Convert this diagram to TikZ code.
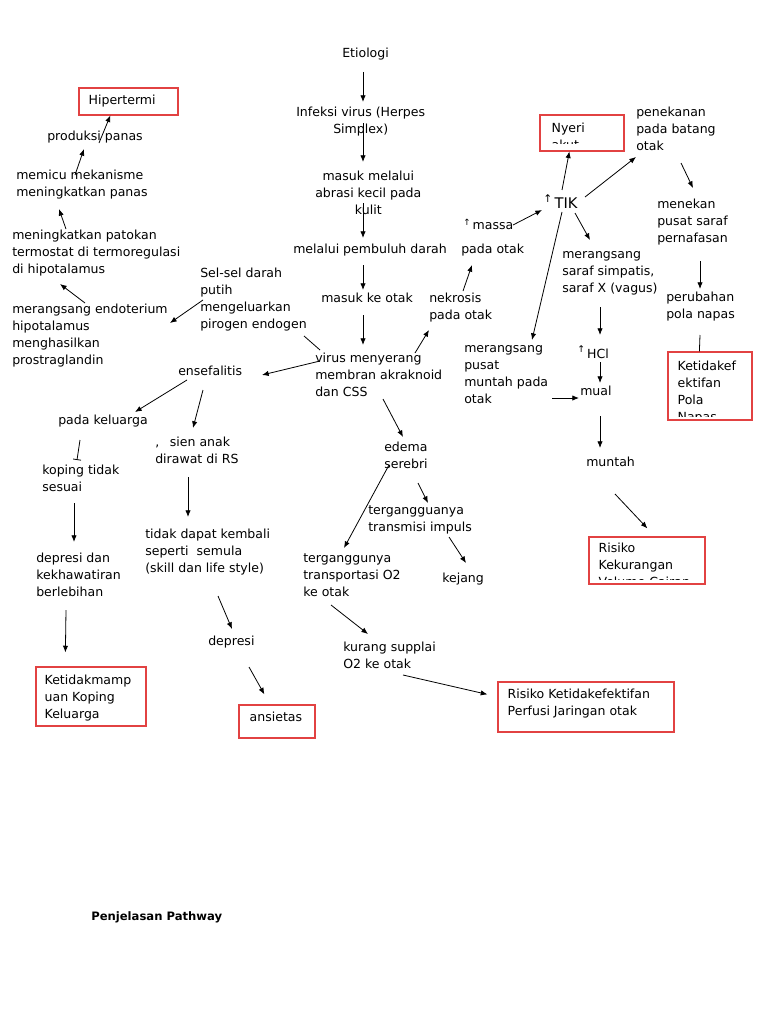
\documentclass[tikz,border=0pt]{standalone}
\usepackage{fontspec}
\setmainfont{DejaVu Sans}
\usetikzlibrary{arrows.meta,calc,fit}
\definecolor{boxred}{RGB}{226,66,66}
\tikzstyle{arrow}=[-{Latex[length=5pt,width=4pt]},line width=.6pt,draw=black]
\tikzstyle{line}=[line width=.6pt,draw=black]
\tikzstyle{txt}=[anchor=north west,inner sep=0pt,align=left,execute at begin node=\strut]
\tikzstyle{redbox}=[draw=boxred,line width=.9pt,inner sep=0pt]
\newcommand{\naik}[2]{\raisebox{#2}{\fontsize{#1}{#1}\selectfont ↑}}

\begin{document}
\begin{tikzpicture}[x=.75pt,y=-.75pt,font=\fontsize{9.4}{12.75}\selectfont]
	\useasboundingbox (0,0) rectangle (768,1024);

	%middle column
	\node[txt] (etiologi) at (342,45) {Etiologi};
	\node[txt,align=center] (infeksi) at (296,104) {\strut Infeksi virus (Herpes\\Simplex)};
	\node[txt,align=center] (abrasi) at (315,168) {\strut masuk melalui\\abrasi kecil pada\\kulit};
	\node[txt] (pembuluh) at (293,241) {melalui pembuluh darah};
	\node[txt] (masukotak) at (321,290) {masuk ke otak};
	\node[txt] (virus) at (315,350) {\strut virus menyerang\\membran akraknoid\\dan CSS};
	\node[txt] (nekrosis) at (429,290) {\strut nekrosis\\pada otak};
	\node[txt,anchor=base west] (massa) at (463,229) {\naik{6.5}{2.5pt}\,massa};
	\node[txt] (massaotak) at (461,241) {pada otak};
	\node[txt,anchor=base west,font=\fontsize{11}{13}\selectfont] (tik) at (543,208) {\naik{8}{4.5pt}\,TIK};

	%right side
	\node[redbox,fit={(540,115) (624,151)}] (nyeri) {};
	\begin{scope}
		\clip (540,115) rectangle (624,143);
		\node[txt] (nyeritxt) at ($(nyeri.north west)+(12,6)$) {\strut Nyeri\\akut};
	\end{scope}
	\node[txt] (penek) at (636,104) {\strut penekanan\\pada batang\\otak};
	\node[txt] (menekan) at (657,196) {\strut menekan\\pusat saraf\\pernafasan};
	\node[txt] (perubahan) at (666,289) {\strut perubahan\\pola napas};
	\node[redbox,fit={(668,352) (752,420)}] (napasbox) {};
	\begin{scope}
		\clip (668,352) rectangle (752,416);
		\node[txt] (napastxt) at ($(napasbox.north west)+(10,7)$) {\strut Ketidakef\\ektifan\\Pola\\Napas};
	\end{scope}
	\node[txt] (saraf) at (562,246) {\strut merangsang\\saraf simpatis,\\saraf X (vagus)};
	\node[txt,anchor=base west] (hcl) at (577,358) {\naik{7}{4.5pt}\,HCl};
	\node[txt] (mual) at (580,383) {mual};
	\node[txt] (pusat) at (464,340) {\strut merangsang\\pusat\\muntah pada\\otak};
	\node[txt] (muntah) at (586,454) {muntah};
	\node[redbox,fit={(589,537) (705,584)}] (kekurangan) {};
	\begin{scope}
		\clip (589,537) rectangle (705,579);
		\node[txt] (kekurangantxt) at ($(kekurangan.north west)+(10,4)$) {\strut Risiko\\Kekurangan\\Volume Cairan};
	\end{scope}

	%lower middle
	\node[txt] (edema) at (384,439) {\strut edema\\serebri};
	\node[txt] (transmisi) at (368,502) {\strut tergangguanya\\transmisi impuls};
	\node[txt] (kejang) at (442,570) {kejang};
	\node[txt] (transport) at (303,550) {\strut terganggunya\\transportasi O2\\ke otak};
	\node[txt] (kurang) at (343,639) {\strut kurang supplai\\O2 ke otak};
	\node[redbox,fit={(498,682) (674,732)}] (perfusi) {};
	\node[txt] (perfusitxt) at ($(perfusi.north west)+(10,5)$) {\strut Risiko Ketidakefektifan\\Perfusi Jaringan otak};

	%left side
	\node[txt] (ensefalitis) at (178,363) {ensefalitis};
	\node[txt] (selsel) at (200,265) {\strut Sel-sel darah\\putih\\mengeluarkan\\pirogen endogen};
	\node[txt] (endot) at (12,301) {\strut merangsang endoterium\\hipotalamus\\menghasilkan\\prostraglandin};
	\node[txt] (patokan) at (12,227) {\strut meningkatkan patokan\\termostat di termoregulasi\\di hipotalamus};
	\node[txt] (memicu) at (16,167) {\strut memicu mekanisme\\meningkatkan panas};
	\node[txt] (produksi) at (47,128) {produksi panas};
	\node[redbox,fit={(79,88) (178,115)}] (hipertermi) {};
	\node[txt] (hipertxt) at ($(hipertermi.north west)+(10,5)$) {Hipertermi};
	\node[txt] (keluarga) at (58,412) {pada keluarga};
	\node[txt] (sien) at (155,434) {\strut,\hspace{8pt}sien anak\\dirawat di RS};
	\node[txt] (koping) at (42,462) {\strut koping tidak\\sesuai};
	\node[txt] (tidakdapat) at (145,526) {\strut tidak dapat kembali\\seperti\ \ semula\\(skill dan life style)};
	\node[txt] (deprdan) at (36,550) {\strut depresi dan\\kekhawatiran\\berlebihan};
	\node[txt] (depresi) at (208,633) {depresi};
	\node[redbox,fit={(36,667) (146,726)}] (mampu) {};
	\node[txt] (mamputxt) at ($(mampu.north west)+(9,6)$) {\strut Ketidakmamp\\uan Koping\\Keluarga};
	\node[redbox,fit={(239,705) (315,738)}] (ansietas) {};
	\node[txt] (ansietastxt) at ($(ansietas.north west)+(11,5)$) {ansietas};

	\node[txt,anchor=base west,font=\fontsize{8.7}{10}\selectfont\bfseries] (penjelasan) at (91,920) {Penjelasan Pathway};

	%connectors middle
	\draw[arrow] ($(etiologi.north west)+(21,27)$) -- ($(infeksi.north west)+(67,-2)$);
	\draw[arrow] ($(infeksi.north west)+(67,19)$) -- ($(abrasi.north west)+(48,-6)$);
	\draw[arrow] ($(abrasi.north west)+(48,35)$) -- ($(pembuluh.north west)+(70,-3)$);
	\draw[arrow] ($(pembuluh.north west)+(70,24)$) -- ($(masukotak.north west)+(42,0)$);
	\draw[arrow] ($(masukotak.north west)+(42,25)$) -- ($(virus.north west)+(48,-5)$);
	\draw[arrow] ($(virus.north west)+(100,3)$) -- ($(nekrosis.north west)+(0,40)$);
	\draw[arrow] ($(nekrosis.north west)+(34,1)$) -- ($(massaotak.north west)+(11,24)$);
	\draw[arrow] ($(massa.base west)+(50,-4)$) -- ($(tik.base west)+(-1,2)$);

	%connectors right
	\draw[arrow] ($(tik.base west)+(19,-18)$) -- ($(nyeri.north west)+(30,37)$);
	\draw[arrow] ($(tik.base west)+(42,-11)$) -- ($(penek.north west)+(0,53)$);
	\draw[arrow] ($(penek.north west)+(45,59)$) -- ($(menekan.north west)+(36,-8)$);
	\draw[arrow] ($(menekan.north west)+(43,65)$) -- ($(perubahan.north west)+(34,0)$);
	\draw[line] ($(perubahan.north west)+(34,46)$) -- ($(napasbox.north west)+(32,0)$);
	\draw[arrow] ($(tik.base west)+(32,5)$) -- ($(saraf.north west)+(28,-6)$);
	\draw[arrow] ($(tik.base west)+(19,4)$) -- ($(pusat.north west)+(68,0)$);
	\draw[arrow] ($(saraf.north west)+(38,61)$) -- ($(hcl.base west)+(23,-23)$);
	\draw[arrow] ($(hcl.base west)+(23,4)$) -- ($(mual.north west)+(20,0)$);
	\draw[arrow] ($(pusat.north west)+(88,58)$) -- ($(mual.north west)+(-1,15)$);
	\draw[arrow] ($(mual.north west)+(20,33)$) -- ($(muntah.north west)+(14,-6)$);
	\draw[arrow] ($(muntah.north west)+(29,40)$) -- ($(kekurangan.north west)+(59,-8)$);

	%connectors lower middle
	\draw[arrow] ($(virus.north west)+(68,49)$) -- ($(edema.north west)+(19,-2)$);
	\draw[arrow] ($(edema.north west)+(5,26)$) -- ($(transport.north west)+(41,-2)$);
	\draw[arrow] ($(edema.north west)+(34,44)$) -- ($(transmisi.north west)+(60,1)$);
	\draw[arrow] ($(transmisi.north west)+(81,35)$) -- ($(kejang.north west)+(24,-7)$);
	\draw[arrow] ($(transport.north west)+(28,55)$) -- ($(kurang.north west)+(25,-5)$);
	\draw[arrow] ($(kurang.north west)+(60,36)$) -- ($(perfusi.north west)+(-10,13)$);

	%connectors left
	\draw[arrow] ($(virus.north west)+(5,11)$) -- ($(ensefalitis.north west)+(84,12)$);
	\draw[line] ($(selsel.north west)+(104,71)$) -- ($(virus.north west)+(5,0)$);
	\draw[arrow] ($(selsel.north west)+(3,35)$) -- ($(endot.north west)+(158,22)$);
	\draw[arrow] ($(endot.north west)+(73,2)$) -- ($(patokan.north west)+(48,57)$);
	\draw[arrow] ($(patokan.north west)+(54,2)$) -- ($(memicu.north west)+(43,42)$);
	\draw[arrow] ($(memicu.north west)+(59,8)$) -- ($(produksi.north west)+(37,21)$);
	\draw[arrow] ($(produksi.north west)+(52,15)$) -- ($(hipertermi.north west)+(32,28)$);
	\draw[arrow] ($(ensefalitis.north west)+(9,17)$) -- ($(keluarga.north west)+(77,0)$);
	\draw[arrow] ($(ensefalitis.north west)+(25,27)$) -- ($(sien.north west)+(38,-6)$);
	\draw[line,-{Bar[width=6pt]}] ($(keluarga.north west)+(22,28)$) -- ($(koping.north west)+(35,-2)$);
	\draw[arrow] ($(koping.north west)+(32,41)$) -- ($(deprdan.north west)+(38,-8)$);
	\draw[arrow] ($(deprdan.north west)+(30,60)$) -- ($(mampu.north west)+(30,-14)$);
	\draw[arrow] ($(sien.north west)+(33,43)$) -- ($(tidakdapat.north west)+(43,-9)$);
	\draw[arrow] ($(tidakdapat.north west)+(73,70)$) -- ($(depresi.north west)+(24,-4)$);
	\draw[arrow] ($(depresi.north west)+(41,34)$) -- ($(ansietas.north west)+(26,-10)$);
\end{tikzpicture}
\end{document}
